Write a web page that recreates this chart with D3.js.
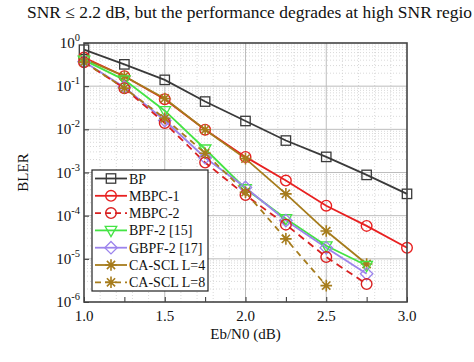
<!DOCTYPE html>
<html><head><meta charset="utf-8">
<script src="https://cdn.jsdelivr.net/npm/d3@7"></script>
<style>html,body{margin:0;padding:0;background:#fff;overflow:hidden}</style>
</head><body><svg id="c" width="474" height="362"></svg>
<script>
const snr = [1.0,1.25,1.5,1.75,2.0,2.25,2.5,2.75,3.0];
const bp     = [0.70,0.32,0.14,0.044,0.0156,0.0055,0.0023,0.00088,0.00032];
const mbpc1  = [0.46,0.17,0.05,0.0098,0.0023,0.00065,0.00017,5.8e-5,1.8e-5];
const mbpc2  = [0.36,0.09,0.014,0.0017,0.0003,6.2e-5,1.1e-5,2.6e-6];
const bpf2   = [0.40,0.14,0.027,0.0035,0.00042,8.5e-5,2.0e-5,7e-6];
const gbpf2  = [0.37,0.095,0.016,0.0022,0.00045,7.7e-5,1.8e-5,4.5e-6];
const cascl4 = [0.43,0.17,0.052,0.0098,0.0021,0.00032,4.4e-5,7.6e-6];
const cascl8 = [0.36,0.09,0.018,0.0028,0.00035,2.9e-5,2.4e-6];
const names = ["BP","MBPC-1","MBPC-2","BPF-2 [15]","GBPF-2 [17]","CA-SCL L=4","CA-SCL L=8"];
const xTicks = [1.0,1.5,2.0,2.5,3.0];
const yTicks = [0,-1,-2,-3,-4,-5,-6];
const titleText = "SNR \u2264 2.2 dB, but the performance degrades at high SNR regio";

const series = [
  {name:names[0], v:bp,     color:"#3a3a3a", dash:null,  m:"square"},
  {name:names[1], v:mbpc1,  color:"#e82020", dash:null,  m:"circle"},
  {name:names[2], v:mbpc2,  color:"#d82020", dash:"7,5", m:"circle"},
  {name:names[3], v:bpf2,   color:"#44e444", dash:null,  m:"tri"},
  {name:names[4], v:gbpf2,  color:"#9c84ec", dash:null,  m:"diamond"},
  {name:names[5], v:cascl4, color:"#a67c1c", dash:null,  m:"star"},
  {name:names[6], v:cascl8, color:"#a67c1c", dash:"6,5", m:"star"}
];

const svg = d3.select("#c");
const L=84,R=407,T=43,B=302;
const x = d3.scaleLinear().domain([1,3]).range([L,R]);
const y = d3.scaleLog().domain([1e-6,1]).range([B,T]);
const serif = "Liberation Serif, Times New Roman, serif";

svg.append("text").attr("x",27).attr("y",18).attr("font-family",serif)
  .attr("font-size",17.5).attr("fill","#111").attr("textLength",445).attr("lengthAdjust","spacingAndGlyphs")
  .text(titleText);

const g = svg.append("g");
const minorX = d3.range(1.1,3.0,0.1).filter(v=>Math.abs(v*2-Math.round(v*2))>1e-6);
g.selectAll(".mx").data(minorX).join("line").attr("x1",d=>x(d)).attr("x2",d=>x(d))
  .attr("y1",T).attr("y2",B).attr("stroke","#cfcfcf").attr("stroke-width",0.8).attr("stroke-dasharray","1,2");
const minorY=[];
for(let e=-6;e<0;e++) for(let k=2;k<10;k++) minorY.push(k*Math.pow(10,e));
g.selectAll(".my").data(minorY).join("line").attr("x1",L).attr("x2",R)
  .attr("y1",d=>y(d)).attr("y2",d=>y(d)).attr("stroke","#cfcfcf").attr("stroke-width",0.8).attr("stroke-dasharray","1,2");
g.selectAll(".gx").data(xTicks.slice(1,-1)).join("line").attr("x1",d=>x(d)).attr("x2",d=>x(d))
  .attr("y1",T).attr("y2",B).attr("stroke","#bdbdbd").attr("stroke-width",1);
g.selectAll(".gy").data(yTicks.slice(1,-1)).join("line").attr("x1",L).attr("x2",R)
  .attr("y1",d=>y(Math.pow(10,d))).attr("y2",d=>y(Math.pow(10,d))).attr("stroke","#bdbdbd").attr("stroke-width",1);

const xAxis = d3.axisBottom(x).tickValues(d3.range(1,3.01,0.25)).tickSize(-5).tickFormat("");
svg.append("g").attr("transform",`translate(0,${B})`).call(xAxis)
  .call(a=>{a.select(".domain").remove(); a.selectAll("line").attr("stroke","#333");});
const yAxis = d3.axisLeft(y).tickValues(yTicks.map(e=>Math.pow(10,e))).tickSize(-5).tickFormat("");
svg.append("g").attr("transform",`translate(${L},0)`).call(yAxis)
  .call(a=>{a.select(".domain").remove(); a.selectAll("line").attr("stroke","#333");});

svg.selectAll(".xl").data(xTicks).join("text").attr("x",d=>x(d)).attr("y",B+19)
  .attr("text-anchor","middle").attr("font-family",serif).attr("font-size",15).attr("fill","#111")
  .text(d=>d.toFixed(1));
const yl = svg.selectAll(".yl").data(yTicks).join("text").attr("x",L-4).attr("y",d=>y(Math.pow(10,d))+5)
  .attr("text-anchor","end").attr("font-family",serif).attr("font-size",15).attr("fill","#111");
yl.append("tspan").text("10");
yl.append("tspan").attr("dy",-7).attr("font-size",10.5).text(d=>String(d));

svg.append("text").attr("transform",`translate(28,${(T+B)/2}) rotate(-90)`).attr("text-anchor","middle")
  .attr("font-family",serif).attr("font-size",15).attr("fill","#111").text("BLER");
svg.append("text").attr("x",(L+R)/2).attr("y",339).attr("text-anchor","middle")
  .attr("font-family",serif).attr("font-size",15).attr("fill","#111").text("Eb/N0 (dB)");

function marker(sel, type, color){
  const s=4.7;
  if(type==="square") sel.append("rect").attr("x",-s).attr("y",-s).attr("width",2*s).attr("height",2*s)
    .attr("fill","none").attr("stroke",color).attr("stroke-width",1.3);
  else if(type==="circle") sel.append("circle").attr("r",5.3).attr("fill","none").attr("stroke",color).attr("stroke-width",1.4);
  else if(type==="tri") sel.append("path").attr("d",`M${-5.8},${-4} L5.8,-4 L0,6.2 Z`).attr("fill","none").attr("stroke",color).attr("stroke-width",1.3);
  else if(type==="diamond") sel.append("path").attr("d","M0,-6.2 L6.2,0 L0,6.2 L-6.2,0 Z").attr("fill","none").attr("stroke",color).attr("stroke-width",1.3);
  else if(type==="star"){
    const r=5.8, a=r*0.707;
    sel.append("path").attr("d",`M${-r},0L${r},0M0,${-r}L0,${r}M${-a},${-a}L${a},${a}M${-a},${a}L${a},${-a}`)
      .attr("stroke",color).attr("stroke-width",1.6);
  }
}

const plot = svg.append("g");
const line = d3.line().x((d,i)=>x(snr[i])).y(d=>y(d));
const order=[0,1,5,3,4,2,6];
order.forEach(k=>{
  const s=series[k];
  plot.append("path").datum(s.v).attr("d",line).attr("fill","none").attr("stroke",s.color)
    .attr("stroke-width",1.8).attr("stroke-dasharray",s.dash);
});
order.forEach(k=>{
  const s=series[k];
  s.v.forEach((v,i)=>{ const m=plot.append("g").attr("transform",`translate(${x(snr[i])},${y(v)})`); marker(m,s.m,s.color); });
});

svg.append("rect").attr("x",L).attr("y",T).attr("width",R-L).attr("height",B-T)
  .attr("fill","none").attr("stroke","#444").attr("stroke-width",1.6);

const lg = svg.append("g");
lg.append("rect").attr("x",92).attr("y",170).attr("width",116).attr("height",121)
  .attr("fill","#fff").attr("stroke","#222").attr("stroke-width",1.2);
series.forEach((s,i)=>{
  const cy = 178.5 + i*17.3;
  lg.append("line").attr("x1",95).attr("x2",127).attr("y1",cy).attr("y2",cy).attr("stroke",s.color)
    .attr("stroke-width",1.8).attr("stroke-dasharray",s.dash?"6,4":null);
  const m=lg.append("g").attr("transform",`translate(111,${cy})`); marker(m,s.m,s.color);
  lg.append("text").attr("x",129).attr("y",cy+5).attr("font-family",serif).attr("font-size",14)
    .attr("fill","#111").text(s.name);
});
</script></body></html>
